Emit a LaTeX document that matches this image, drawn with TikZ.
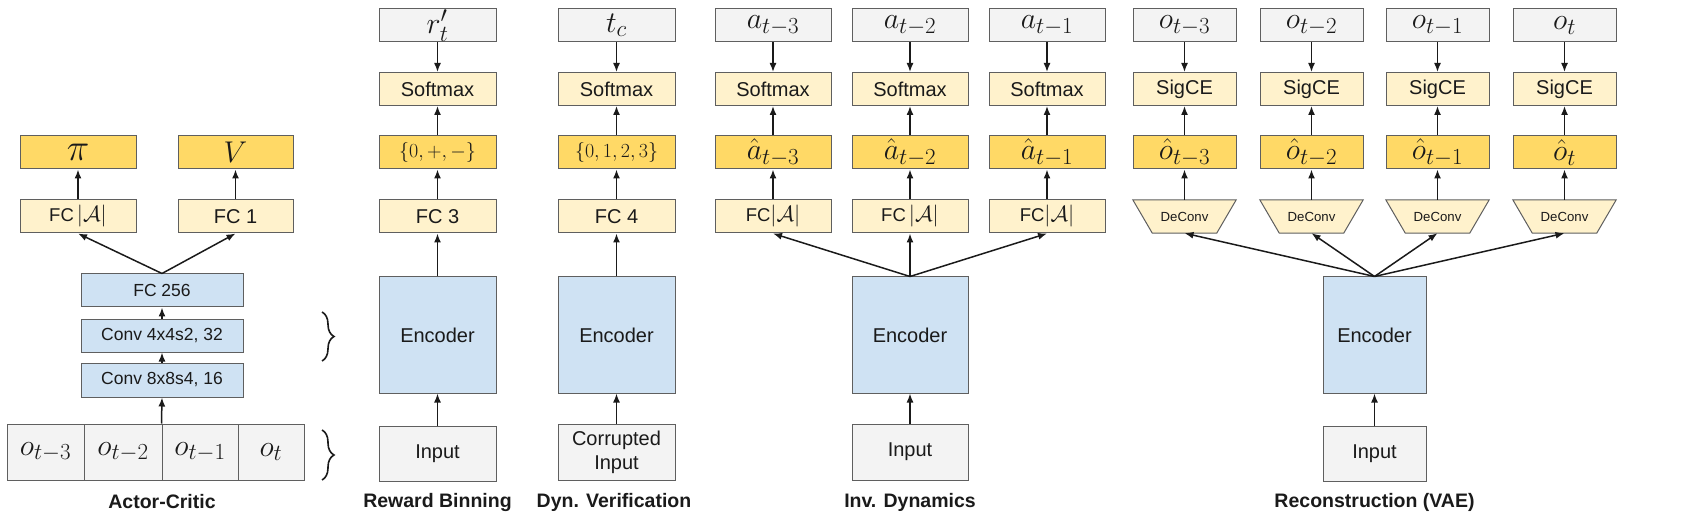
\RequirePackage{fix-cm}
\documentclass[tikz,border=0pt]{standalone}
\usepackage[no-math]{fontspec}
\setmainfont{Liberation Sans}
\usetikzlibrary{arrows.meta,decorations.pathreplacing}
\DeclareMathSizes{30}{30}{23}{18}
\definecolor{edgegray}{HTML}{5F5F5F}
\definecolor{boxgray}{HTML}{F3F3F3}
\definecolor{lightyel}{HTML}{FFF2CC}
\definecolor{darkyel}{HTML}{FFD966}
\definecolor{lightblu}{HTML}{CFE2F3}
\definecolor{inkcol}{HTML}{1A1A1A}
\newcommand{\txtf}{\fontsize{20}{24}\selectfont}
\newcommand{\smallf}{\fontsize{17.5}{21}\selectfont}
\newcommand{\tinyf}{\fontsize{13.2}{16}\selectfont}
\newcommand{\mathf}{\fontsize{30}{33}\selectfont}
\newcommand{\setf}{\fontsize{20}{24}\selectfont}
\newcommand{\fcf}{\fontsize{18.5}{22}\selectfont}
\newcommand{\calf}{\fontsize{22}{26}\selectfont}
\newcommand{\titlef}{\fontsize{19.5}{23}\selectfont\bfseries}
\begin{document}
\begin{tikzpicture}[x=1pt,y=-1pt,
  base/.style={draw=edgegray, line width=1pt, minimum height=33pt, inner sep=0pt, text=inkcol},
  greybox/.style={base, fill=boxgray},
  lightbox/.style={base, fill=lightyel},
  darkbox/.style={base, fill=darkyel},
  bluebox/.style={base, fill=lightblu},
  trapbody/.style={draw=edgegray, fill=lightyel, line width=1pt},
  arr/.style={-{Latex[length=9pt,width=7pt]}, line width=1.5pt, draw=inkcol},
  bracestyle/.style={decorate, decoration={brace, amplitude=12pt}, line width=1.6pt, draw=inkcol},
  title/.style={font=\titlef, text=inkcol, inner sep=0pt}
]
\useasboundingbox (0,0) rectangle (1693,526);

% ---------------- Actor-Critic ----------------
\node[darkbox, minimum width=116pt] (pi) at (78,152.5) {\fontsize{38}{40}\selectfont$\pi$};
\node[darkbox, minimum width=115pt] (V) at (235.5,152.5) {\mathf$V$};
\node[lightbox, minimum width=116pt] (fcA) at (78,216.5) {\fcf FC\,{\calf$|\mathcal{A}|$}};
\node[lightbox, minimum width=115pt] (fc1) at (235.5,216.5) {\txtf FC 1};
\node[bluebox, minimum width=162pt] (fc256) at (162,290.5) {\smallf FC 256};
\node[bluebox, minimum width=162pt] (conv2) at (162,335.5) {\smallf Conv 4x4s2, 32};
\node[bluebox, minimum width=162pt, minimum height=34pt] (conv1) at (162,380) {\smallf Conv 8x8s4, 16};
\node[greybox, minimum width=77pt, minimum height=56pt] (c1) at (45.5,452) {\mathf$o_{t-3}$};
\node[greybox, minimum width=78pt, minimum height=56pt] (c2) at (123,452) {\mathf$o_{t-2}$};
\node[greybox, minimum width=76pt, minimum height=56pt] (c3) at (200,452) {\mathf$o_{t-1}$};
\node[greybox, minimum width=66pt, minimum height=56pt] (c4) at (271,452) {\mathf$o_{t}$};
\draw[arr] (c3.north west) -- (conv1.south);
\draw[arr] (conv1.north) -- (conv2.south);
\draw[arr] (conv2.north) -- (fc256.south);
\draw[arr] (fc256.north) -- (fcA.south);
\draw[arr] (fc256.north) -- (fc1.south);
\draw[arr] (fcA.north) -- (pi.south);
\draw[arr] (fc1.north) -- (V.south);
\draw[bracestyle] (322,312) -- (322,361);
\draw[bracestyle] (322,430) -- (322,480);
\node[title] (tac) at (162,502) {Actor-Critic};

% ---------------- Reward Binning ----------------
\begin{scope}[every node/.append style={minimum width=117pt}]
\node[greybox] (rb1) at (437.5,25.5) {\mathf$r'_t$};
\node[lightbox] (rb2) at (437.5,89) {\txtf Softmax};
\node[darkbox] (rb3) at (437.5,152.5) {\setf$\{0,+,-\}$};
\node[lightbox] (rb4) at (437.5,216.5) {\txtf FC 3};
\node[bluebox, minimum height=116pt] (rb5) at (437.5,335) {\txtf Encoder};
\node[greybox, minimum height=55pt] (rb6) at (437.5,453.5) {\txtf Input};
% ---------------- Dyn. Verification ----------------
\node[greybox] (dv1) at (616.5,25.5) {\mathf$t_c$};
\node[lightbox] (dv2) at (616.5,89) {\txtf Softmax};
\node[darkbox] (dv3) at (616.5,152.5) {\setf$\{0,1,2,3\}$};
\node[lightbox] (dv4) at (616.5,216.5) {\txtf FC 4};
\node[bluebox, minimum height=116pt] (dv5) at (616.5,335) {\txtf Encoder};
\node[greybox, minimum height=56pt, align=center, font=\txtf] (dv6) at (616.5,452) {Corrupted\\Input};
\end{scope}
\foreach \p in {rb,dv}{
  \draw[arr] (\p1.south) -- (\p2.north);
  \draw[arr] (\p3.north) -- (\p2.south);
  \draw[arr] (\p4.north) -- (\p3.south);
  \draw[arr] (\p5.north) -- (\p4.south);
  \draw[arr] (\p6.north) -- (\p5.south);
}
\node[title] (trb) at (437.5,502) {Reward Binning};
\node[title] (tdv) at (614,502) {Dyn. Verification};

% ---------------- Inv. Dynamics ----------------
\begin{scope}[every node/.append style={minimum width=116pt}]
\foreach \x/\s/\n/\sp in {773/{t-3}/1/{}, 910/{t-2}/2/{\,}, 1047/{t-1}/3/{}}{
  \node[greybox] (ia\n) at (\x,25.5) {\mathf$a_{\s}$};
  \node[lightbox] (is\n) at (\x,89) {\txtf Softmax};
  \node[darkbox] (ih\n) at (\x,152.5) {\mathf$\hat{a}_{\s}$};
  \node[lightbox] (if\n) at (\x,216.5) {\fcf FC\sp{\calf$|\mathcal{A}|$}};
}
\node[bluebox, minimum height=116pt] (ienc) at (910,335) {\txtf Encoder};
\node[greybox, minimum height=56pt] (iin) at (910,452) {\txtf Input};
\end{scope}
\foreach \n in {1,2,3}{
  \draw[arr] (ia\n.south) -- (is\n.north);
  \draw[arr] (ih\n.north) -- (is\n.south);
  \draw[arr] (if\n.north) -- (ih\n.south);
  \draw[arr] (ienc.north) -- (if\n.south);
}
\draw[arr] (iin.north) -- (ienc.south);
\node[title] (tid) at (910,502) {Inv. Dynamics};

% ---------------- Reconstruction ----------------
\begin{scope}[every node/.append style={minimum width=103pt}]
\foreach \x/\s/\n in {1184.5/{t-3}/1, 1311.5/{t-2}/2, 1437.5/{t-1}/3, 1564.5/{t}/4}{
  \node[greybox] (ro\n) at (\x,25.5) {\mathf$o_{\s}$};
  \node[lightbox] (rs\n) at (\x,89) {\txtf SigCE};
  \node[darkbox] (rh\n) at (\x,152.5) {\mathf$\hat{o}_{\s}$};
  \node[minimum height=33pt, inner sep=0pt] (rd\n) at (\x,216.5) {};
  \draw[trapbody] (rd\n.north west) -- (rd\n.north east) -- ([xshift=-19.5pt]rd\n.south east) -- ([xshift=19.5pt]rd\n.south west) -- cycle;
  \node[text=inkcol, font=\tinyf, minimum width=0pt, inner sep=0pt] (rdt\n) at (rd\n.center) {DeConv};
}
\node[bluebox, minimum height=116pt] (renc) at (1374.5,335) {\txtf Encoder};
\node[greybox, minimum height=55pt] (rin) at (1374.5,453.5) {\txtf Input};
\end{scope}
\foreach \n in {1,2,3,4}{
  \draw[arr] (ro\n.south) -- (rs\n.north);
  \draw[arr] (rh\n.north) -- (rs\n.south);
  \draw[arr] (rd\n.north) -- (rh\n.south);
  \draw[arr] (renc.north) -- (rd\n.south);
}
\draw[arr] (rin.north) -- (renc.south);
\node[title] (trc) at (1374.5,502) {Reconstruction (VAE)};
\end{tikzpicture}
\end{document}
